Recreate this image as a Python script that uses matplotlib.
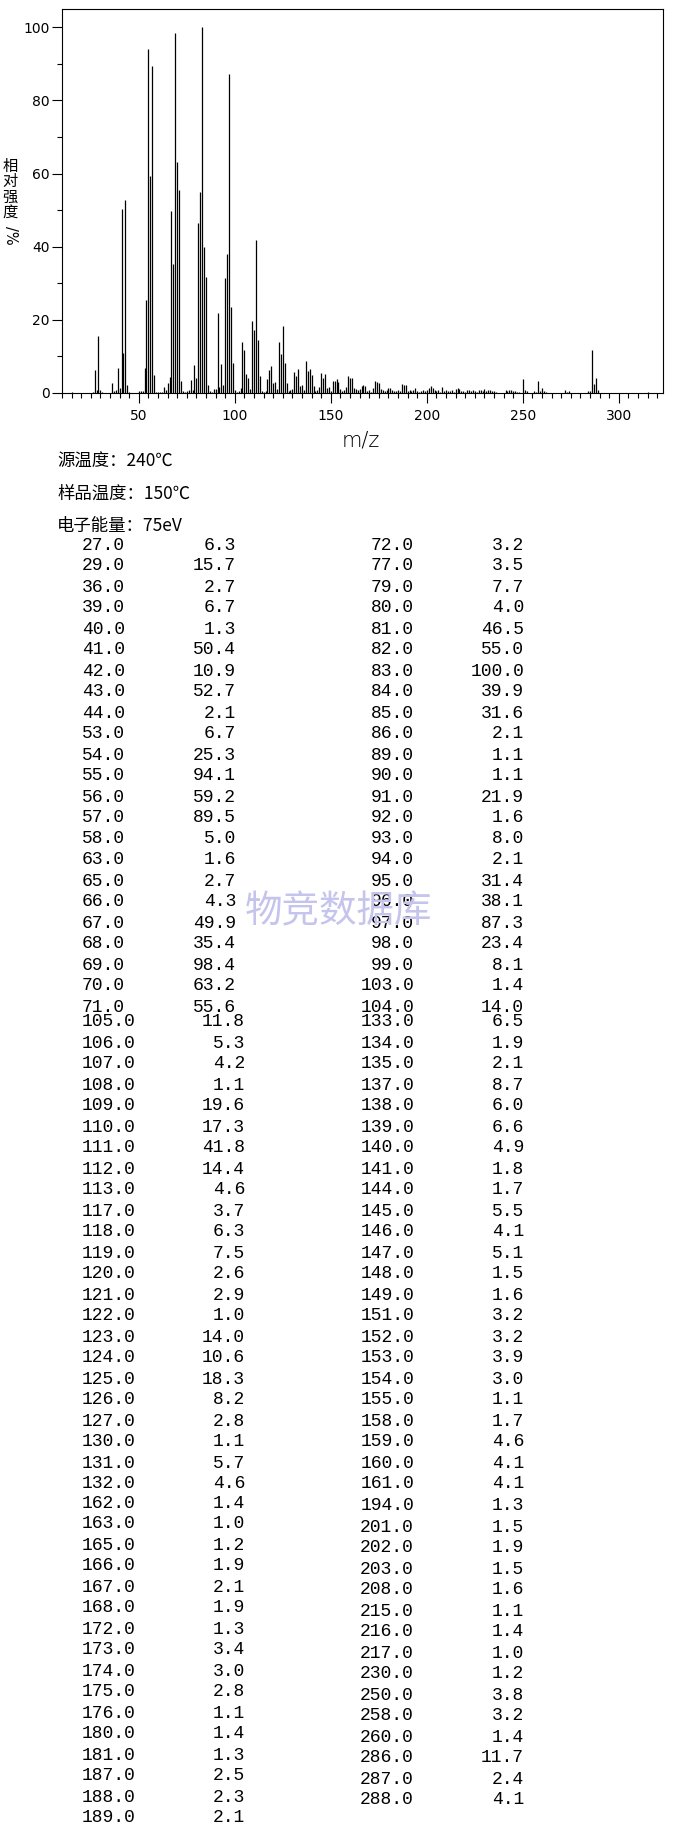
import matplotlib
matplotlib.use("Agg")
import matplotlib.pyplot as plt
from matplotlib.ticker import MultipleLocator

plt.rcParams["font.family"] = ["DejaVu Sans", "Noto Sans CJK SC"]

# ── data: peak list (m/z, relative intensity %) ─────────────────────────────

mz = [27, 29, 36, 39, 40, 41, 42, 43, 44, 53, 54, 55, 56, 57, 58, 63, 65, 66, 67, 68, 69, 70, 71,
      72, 77, 79, 80, 81, 82, 83, 84, 85, 86, 89, 90, 91, 92, 93, 94, 95, 96, 97, 98, 99, 103, 104,
      105, 106, 107, 108, 109, 110, 111, 112, 113, 117, 118, 119, 120, 121, 122, 123, 124, 125, 126,
      127, 130, 131, 132,
      133, 134, 135, 137, 138, 139, 140, 141, 144, 145, 146, 147, 148, 149, 151, 152, 153, 154, 155,
      158, 159, 160, 161,
      162, 163, 165, 166, 167, 168, 172, 173, 174, 175, 176, 180, 181, 187, 188, 189,
      194, 201, 202, 203, 208, 215, 216, 217, 230, 250, 258, 260, 286, 287, 288]
intensity = [6.3, 15.7, 2.7, 6.7, 1.3, 50.4, 10.9, 52.7, 2.1, 6.7, 25.3, 94.1, 59.2, 89.5, 5.0, 1.6,
             2.7, 4.3, 49.9, 35.4, 98.4, 63.2, 55.6,
             3.2, 3.5, 7.7, 4.0, 46.5, 55.0, 100.0, 39.9, 31.6, 2.1, 1.1, 1.1, 21.9, 1.6, 8.0, 2.1,
             31.4, 38.1, 87.3, 23.4, 8.1, 1.4, 14.0,
             11.8, 5.3, 4.2, 1.1, 19.6, 17.3, 41.8, 14.4, 4.6, 3.7, 6.3, 7.5, 2.6, 2.9, 1.0, 14.0,
             10.6, 18.3, 8.2, 2.8, 1.1, 5.7, 4.6,
             6.5, 1.9, 2.1, 8.7, 6.0, 6.6, 4.9, 1.8, 1.7, 5.5, 4.1, 5.1, 1.5, 1.6, 3.2, 3.2, 3.9,
             3.0, 1.1, 1.7, 4.6, 4.1, 4.1,
             1.4, 1.0, 1.2, 1.9, 2.1, 1.9, 1.3, 3.4, 3.0, 2.8, 1.1, 1.4, 1.3, 2.5, 2.3, 2.1,
             1.3, 1.5, 1.9, 1.5, 1.6, 1.1, 1.4, 1.0, 1.2, 3.8, 3.2, 1.4, 11.7, 2.4, 4.1]

# small peaks (< 1 %) visible in the spectrum but not listed in the table
minor_mz = [15, 26, 28, 30, 31, 37, 38, 45, 50, 51, 52, 59, 60, 61, 62, 64, 73, 74, 75, 76, 78,
            87, 88, 100, 101, 102, 114, 115, 116, 128, 129, 136, 142, 143, 150, 156, 157, 164,
            169, 170, 171, 177, 178, 179, 182, 183, 184, 185, 186, 190, 191, 192, 193, 195, 196,
            197, 198, 199, 200, 204, 205, 206, 207, 209, 210, 211, 212, 213, 214, 218, 219, 220,
            221, 222, 223, 224, 225, 226, 227, 228, 229, 231, 232, 233, 234, 235, 236, 241, 242,
            243, 244, 245, 246, 247, 248, 251, 252, 256, 257, 259, 261, 262, 272, 273, 274, 284,
            285, 289, 315]
minor_int = [0.4, 0.4, 0.8, 0.9, 0.3, 0.6, 0.9, 0.4, 0.5, 0.5, 0.6, 0.4, 0.4, 0.3, 0.4, 0.8, 0.6,
             0.4, 0.5, 0.9, 0.8, 0.5, 0.4, 0.7, 0.4, 0.5, 0.5, 0.4, 0.6, 0.5, 0.9, 0.7, 0.6, 0.9,
             0.6, 0.5, 0.9, 0.8, 0.5, 0.9, 0.4, 0.8, 0.5, 0.9, 0.7, 0.5, 0.6, 0.8, 0.5, 0.6, 0.9,
             0.5, 0.7, 0.5, 0.4, 0.6, 0.8, 0.5, 0.9, 0.7, 0.5, 0.9, 0.4, 0.6, 0.8, 0.5, 0.6, 0.9,
             0.4, 0.5, 0.6, 0.4, 0.7, 0.9, 0.5, 0.8, 0.6, 0.4, 0.9, 0.7, 0.5, 0.6, 0.9, 0.7, 0.5,
             0.6, 0.4, 0.7, 0.5, 0.8, 0.9, 0.6, 0.5, 0.4, 0.4, 0.9, 0.5, 0.6, 0.4, 0.6, 0.5, 0.4,
             0.9, 0.4, 0.5, 0.6, 0.5, 0.9, 0.4]

conditions = ["源温度：240℃", "样品温度：150℃", "电子能量：75eV"]

# table is printed in blocks: (rows in left column, rows in right column)
block_rows = [(23, 23), (23, 23), (16, 15)]

# ── figure ──────────────────────────────────────────────────────────────────

W, H = 680, 1828
fig = plt.figure(figsize=(W / 100, H / 100), dpi=100)


def fx(px):
    return px / W


def fy(py):
    return 1 - py / H


ax_l, ax_r, ax_t, ax_b = 62, 663, 9, 393
ax = fig.add_axes([fx(ax_l), fy(ax_b), fx(ax_r - ax_l), (ax_b - ax_t) / H])

ax.vlines(minor_mz, 0, minor_int, color="black", lw=0.9)
ax.vlines(mz, 0, intensity, color="black", lw=0.9)

ax.set_xlim(10, 323)
ax.set_ylim(0, 105)
ax.xaxis.set_major_locator(MultipleLocator(50))
ax.xaxis.set_minor_locator(MultipleLocator(5))
ax.yaxis.set_major_locator(MultipleLocator(20))
ax.yaxis.set_minor_locator(MultipleLocator(10))
ax.tick_params(axis="both", which="major", direction="out", length=7.5, width=0.8,
               labelsize=10, pad=1.5)
ax.tick_params(axis="x", which="major", pad=4)
ax.tick_params(axis="both", which="minor", direction="out", length=3.5, width=0.8)
for sp in ax.spines.values():
    sp.set_linewidth(0.8)

fig.text(fx(361), fy(440), "m/z", ha="center", va="center", fontsize=15,
         family="DejaVu Sans", fontweight="light")

# vertical y label
for i, ch in enumerate("相对强度"):
    fig.text(fx(10), fy(166 + 15.5 * i), ch, ha="center", va="center", fontsize=11,
             family=["Noto Sans CJK SC"])
fig.text(fx(10), fy(235), "/%", ha="center", va="center", fontsize=10.5, rotation=270,
         family="DejaVu Sans")

# ── conditions and peak table ────────────────────────────────────────────────

for i, line in enumerate(conditions):
    fig.text(fx(57), fy(462 + 32 * i), line, ha="left", va="center", fontsize=12.5,
             family=["Noto Sans CJK SC", "DejaVu Sans"])

mono = dict(family="Liberation Mono", fontsize=13, va="center")
block_y = [545, 1022, 1503]
right_dy = [0, 0, 3]
val_right = [236, 245, 245]
k = 0
for b, (n_left, n_right) in enumerate(block_rows):
    for r in range(n_left):
        y = block_y[b] + 21 * r
        fig.text(fx(82), fy(y), f"{mz[k]:.1f}", ha="left", **mono)
        fig.text(fx(val_right[b]), fy(y), f"{intensity[k]:.1f}", ha="right", **mono)
        k += 1
    for r in range(n_right):
        y = block_y[b] + right_dy[b] + 21 * r
        fig.text(fx(414), fy(y), f"{mz[k]:.1f}", ha="right", **mono)
        fig.text(fx(524), fy(y), f"{intensity[k]:.1f}", ha="right", **mono)
        k += 1

# watermark
fig.text(fx(339), fy(912), "物竞数据库", ha="center", va="center", fontsize=27,
         color="#c4c4ec", family=["Noto Sans CJK SC"], zorder=5)

fig.savefig("out.png", dpi=100)
